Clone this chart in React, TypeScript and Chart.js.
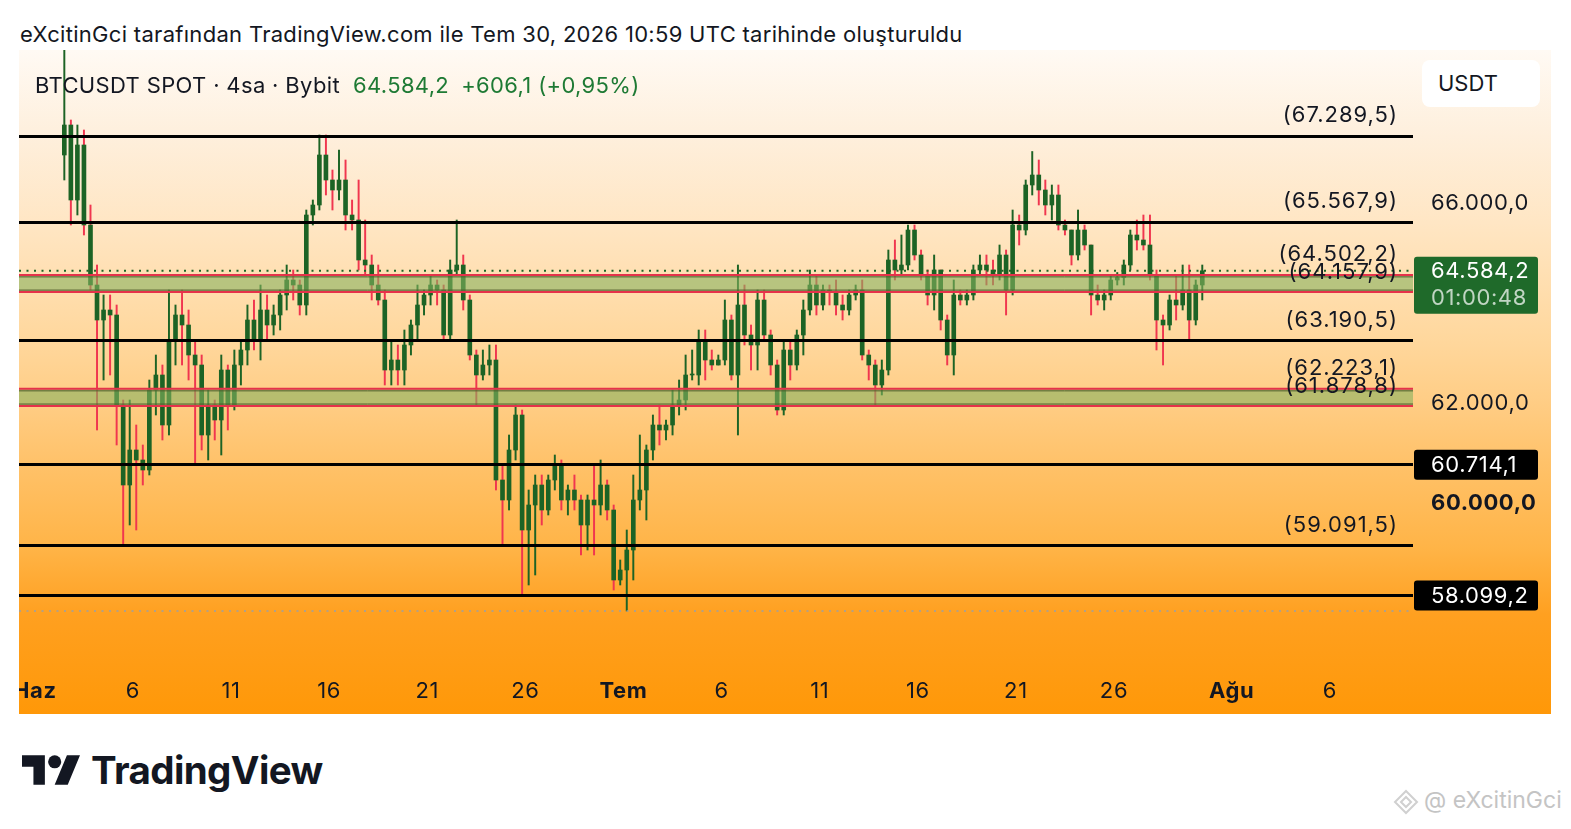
import React, { useEffect, useRef } from "react";
import { Chart, registerables } from "chart.js";

Chart.register(...registerables);

const FONT = "Inter, 'Noto Sans', sans-serif";
const TEXT = "#131722";

// 8-hour candles; x is measured in days after 1 June 00:00
const FIRST_OPEN = 66900;
const FIRST_DAY = 1.5;
const STEP_DAYS = 1 / 3;

const CLOSES = [
  67500, 66000, 67100, 65500, 64300, 63600, 63800, 63700, 61900, 60300,
  61000, 60800, 60600, 62200, 62500, 61500, 63200, 63700, 63500, 62900,
  62700, 61300, 61900, 61600, 62600, 61900, 62700, 63000, 63600, 63200,
  63800, 63500, 63700, 64100, 64400, 64300, 63900, 65700, 65900, 66900,
  66400, 66200, 66400, 65700, 65600, 64800, 64700, 64300, 64000, 62600,
  62800, 62600, 63100, 63500, 63900, 64100, 64300, 64200, 63300, 64600,
  64700, 64000, 62900, 62500, 62700, 62800, 60400, 60000, 61000, 61700,
  59400, 59900, 60300, 59800, 60400, 60700, 60000, 60200, 60000, 59500,
  60000, 59900, 60300, 59800, 58400, 58600, 59000, 60000, 60200, 61000,
  61500, 61400, 61500, 61900, 62000, 62500, 62500, 63200, 62800, 62700,
  62800, 63600, 62500, 63900, 63300, 63100, 64000, 63300, 62700, 61800,
  63000, 62700, 63300, 63800, 64300, 63900, 64200, 64150, 63900, 63800,
  64100, 64200, 62900, 62700, 62300, 62600, 64800, 64600, 64700, 65400,
  64900, 64500, 64100, 64600, 63600, 62900, 64100, 64000, 64100, 64600,
  64700, 64600, 64500, 64900, 64200, 65500, 65400, 66300, 66500, 66200,
  65900, 66100, 65500, 65400, 64900, 65400, 65100, 64100, 64000, 64100,
  64400, 64450, 64700, 65300, 65200, 65100, 64500, 63600, 63500, 64000,
  63900, 64200, 63600, 64300, 64584.2,
];

const HIGHS = [
  69050, 67600, 67500, 67400, 65900, 64700, 64100, 64100, 63900, 62000,
  62000, 61500, 61100, 62400, 62900, 62700, 64200, 63900, 64200, 63800,
  63200, 62900, 62200, 62000, 62900, 62700, 63000, 63200, 63900, 64000,
  64300, 64100, 63900, 64200, 64700, 64600, 64400, 65800, 66000, 67300,
  67300, 66600, 67000, 66800, 66000, 66400, 65600, 64900, 64700, 64200,
  63200, 63100, 63400, 63600, 64300, 64200, 64500, 64400, 64300, 64800,
  65600, 64900, 64100, 63000, 63000, 63100, 63100, 60700, 61300, 61900,
  61800, 60200, 60500, 60500, 60500, 60900, 60800, 60300, 60500, 60100,
  60100, 60700, 60800, 60400, 59900, 58800, 59400, 60500, 61300, 61100,
  61700, 61900, 61600, 62200, 62400, 62900, 63000, 63400, 63400, 63000,
  62900, 64000, 63700, 64700, 64300, 63500, 64200, 64200, 63400, 62800,
  63200, 63200, 63400, 64000, 64600, 64500, 64300, 64300, 64400, 64100,
  64200, 64300, 64400, 63000, 62800, 62800, 65000, 65200, 65300, 65500,
  65500, 65000, 64600, 64900, 64600, 63700, 64400, 64200, 64200, 64700,
  64900, 64900, 64800, 65100, 65000, 65800, 65700, 66400, 66970, 66800,
  66400, 66300, 66300, 65600, 65400, 65800, 65500, 65100, 64300, 64200,
  64500, 64550, 64800, 65400, 65600, 65700, 65700, 64600, 63700, 64100,
  64500, 64700, 64700, 64400, 64700,
];

const LOWS = [
  66400, 65500, 65700, 65300, 64200, 61400, 62400, 62500, 61100, 59100,
  59500, 59400, 60300, 60500, 61700, 61200, 61300, 62700, 62700, 62400,
  60700, 61000, 60800, 61200, 60900, 61400, 61800, 62300, 62700, 63000,
  62800, 63200, 63300, 63400, 63800, 64000, 63700, 63700, 65500, 65800,
  66100, 65800, 66000, 65400, 65400, 64600, 64500, 64000, 63900, 62300,
  62300, 62300, 62300, 62900, 63200, 63700, 63900, 63900, 63200, 63200,
  64500, 63800, 62800, 61900, 62400, 62500, 60200, 59100, 59800, 60800,
  58100, 58300, 58500, 59500, 59700, 60200, 59800, 59700, 59800, 58900,
  59000, 58900, 59700, 59600, 58200, 58300, 57780, 58400, 59800, 59600,
  60800, 61100, 61200, 61300, 61700, 61800, 62400, 62300, 62400, 62600,
  62700, 62700, 62400, 61300, 63100, 62600, 62600, 63200, 62500, 61700,
  61700, 62400, 62600, 62900, 63700, 63700, 63800, 63900, 63700, 63600,
  63700, 64000, 62800, 62400, 61900, 62100, 62500, 64400, 64500, 64600,
  64800, 64400, 63900, 63800, 63400, 62700, 62500, 63900, 63900, 64000,
  64500, 64300, 64300, 64400, 63700, 64100, 65100, 65300, 66100, 65900,
  65700, 65600, 65400, 65300, 64700, 64800, 65000, 63700, 63900, 63800,
  64000, 64300, 64300, 64600, 65000, 65000, 64400, 63000, 62700, 63400,
  63600, 63800, 63200, 63500, 64000,
];

const X_TICK_DAYS = [0, 5, 10, 15, 20, 25, 30, 35, 40, 45, 50, 55, 61, 66];
const X_TICK_LABELS = ["Haz", "6", "11", "16", "21", "26", "Tem", "6", "11", "16", "21", "26", "Ağu", "6"];
const X_BOLD_LABELS = ["Haz", "Tem", "Ağu"];
const Y_TICK_VALUES = [60000, 62000, 66000];
const Y_BOLD_VALUE = 60000;

const LINE_LEVELS = [67289.5, 65567.9, 63190.5, 60714.1, 59091.5, 58099.2];
const TEXT_LABEL_LEVELS = [67289.5, 65567.9, 64502.2, 64157.9, 63190.5, 62223.1, 61878.8, 59091.5];
const BOXED_LEVELS = [60714.1, 58099.2];
const ZONES = [
  [64157.9, 64502.2],
  [61878.8, 62223.1],
];
const LAST_PRICE = 64584.2;
const COUNTDOWN = "01:00:48";
const RANGE_LOW = 57780;

const X_MIN = -0.81;
const X_MAX = 70.24;
const Y_MIN = 56700;
const Y_MAX = 69000;

const BODY = "#1c6325";
const WICK_UP = "#1c6325";
const WICK_DOWN = "#f0364f";

function fmt(v: number): string {
  const [i, d] = v.toFixed(1).split(".");
  return i.replace(/\B(?=(\d{3})+(?!\d))/g, ".") + "," + d;
}

function roundRect(ctx: CanvasRenderingContext2D, x: number, y: number, w: number, h: number, r: number) {
  ctx.beginPath();
  ctx.moveTo(x + r, y);
  ctx.lineTo(x + w - r, y);
  ctx.quadraticCurveTo(x + w, y, x + w, y + r);
  ctx.lineTo(x + w, y + h - r);
  ctx.quadraticCurveTo(x + w, y + h, x + w - r, y + h);
  ctx.lineTo(x + r, y + h);
  ctx.quadraticCurveTo(x, y + h, x, y + h - r);
  ctx.lineTo(x, y + r);
  ctx.quadraticCurveTo(x, y, x + r, y);
  ctx.closePath();
}

const overlayPlugin = {
  id: "tvOverlay",
  beforeDraw(chart: any) {
    (chart.ctx as any).letterSpacing = "0.6px";
  },
  afterDatasetsDraw(chart: any) {
    const { ctx, chartArea } = chart;
    const ys = chart.scales.y;
    const left = chartArea.left;
    const right = chartArea.right;
    ctx.save();

    // zones
    ZONES.forEach(([lo, hi]) => {
      const yt = ys.getPixelForValue(hi);
      const yb = ys.getPixelForValue(lo);
      ctx.fillStyle = "rgba(135,178,95,0.6)";
      ctx.fillRect(left, yt, right - left, yb - yt);
      ctx.strokeStyle = "#4f5d2c";
      ctx.lineWidth = 1;
      ctx.beginPath();
      ctx.moveTo(left, yt + 2);
      ctx.lineTo(right, yt + 2);
      ctx.moveTo(left, yb - 2);
      ctx.lineTo(right, yb - 2);
      ctx.stroke();
      ctx.strokeStyle = "#e5324a";
      ctx.lineWidth = 2;
      ctx.beginPath();
      ctx.moveTo(left, yt);
      ctx.lineTo(right, yt);
      ctx.moveTo(left, yb);
      ctx.lineTo(right, yb);
      ctx.stroke();
    });

    // last price dotted line
    const yLast = ys.getPixelForValue(LAST_PRICE);
    ctx.setLineDash([2, 5.5]);
    ctx.strokeStyle = "#1c6325";
    ctx.lineWidth = 2;
    ctx.beginPath();
    ctx.moveTo(left, yLast);
    ctx.lineTo(right, yLast);
    ctx.stroke();

    // range low dotted line
    const yLow = ys.getPixelForValue(RANGE_LOW);
    ctx.strokeStyle = "#9aa0a6";
    ctx.lineWidth = 1.5;
    ctx.beginPath();
    ctx.moveTo(left, yLow);
    ctx.lineTo(right, yLow);
    ctx.stroke();
    ctx.setLineDash([]);

    // horizontal levels
    ctx.strokeStyle = "#000000";
    ctx.lineWidth = 3;
    LINE_LEVELS.forEach((v) => {
      const y = Math.round(ys.getPixelForValue(v)) + 0.5;
      ctx.beginPath();
      ctx.moveTo(left, y);
      ctx.lineTo(right, y);
      ctx.stroke();
    });

    // level text labels
    ctx.fillStyle = TEXT;
    ctx.font = `22px ${FONT}`;
    (ctx as any).letterSpacing = "1px";
    ctx.textAlign = "right";
    ctx.textBaseline = "middle";
    TEXT_LABEL_LEVELS.forEach((v) => {
      const y = ys.getPixelForValue(v);
      ctx.fillText(`(${fmt(v)})`, right - 15, y - 20);
    });
    ctx.restore();
  },
  afterDraw(chart: any) {
    const { ctx, chartArea } = chart;
    const ys = chart.scales.y;
    const bx = chartArea.right + 1;
    const bw = 124;
    const tx = chartArea.right + 18;
    ctx.save();
    ctx.font = `22px ${FONT}`;
    (ctx as any).letterSpacing = "0.6px";
    ctx.textAlign = "left";
    ctx.textBaseline = "middle";

    BOXED_LEVELS.forEach((v) => {
      const y = ys.getPixelForValue(v);
      ctx.fillStyle = "#000000";
      roundRect(ctx, bx, y - 14.5, bw, 30, 3);
      ctx.fill();
      ctx.fillStyle = "#ffffff";
      ctx.fillText(fmt(v), tx, y + 1);
    });

    const yLast = ys.getPixelForValue(LAST_PRICE);
    ctx.fillStyle = "#1f6a2a";
    roundRect(ctx, bx, yLast - 14, bw, 57, 3);
    ctx.fill();
    ctx.fillStyle = "#ffffff";
    ctx.fillText(fmt(LAST_PRICE), tx, yLast + 1);
    ctx.fillStyle = "rgba(255,255,255,0.72)";
    ctx.fillText(COUNTDOWN, tx, yLast + 28);
    ctx.restore();
  },
};

function CandleChart() {
  const ref = useRef<HTMLCanvasElement | null>(null);
  useEffect(() => {
    if (!ref.current) return;
    const opens = [FIRST_OPEN, ...CLOSES.slice(0, -1)];
    const xs = CLOSES.map((_, i) => FIRST_DAY + i * STEP_DAYS);
    const up = CLOSES.map((c, i) => c >= opens[i]);
    const chart = new Chart(ref.current, {
      type: "bar",
      data: {
        datasets: [
          {
            label: "wick",
            data: xs.map((x, i) => ({ x, y: [LOWS[i], HIGHS[i]] })) as any,
            backgroundColor: up.map((u) => (u ? WICK_UP : WICK_DOWN)),
            barThickness: 1.3,
            grouped: false,
            order: 2,
          } as any,
          {
            label: "body",
            data: xs.map((x, i) => ({ x, y: [opens[i], CLOSES[i]] })) as any,
            backgroundColor: BODY,
            barThickness: 4,
            minBarLength: 1,
            grouped: false,
            order: 1,
          } as any,
        ],
      },
      options: {
        animation: false,
        responsive: false,
        maintainAspectRatio: false,
        layout: { padding: 0 },
        plugins: { legend: { display: false }, tooltip: { enabled: false }, title: { display: false } },
        scales: {
          x: {
            type: "linear",
            min: X_MIN,
            max: X_MAX,
            offset: false,
            grid: { display: false, drawTicks: false },
            border: { display: false },
            ticks: {
              autoSkip: false,
              maxRotation: 0,
              minRotation: 0,
              padding: 13,
              color: TEXT,
              font: (c: any) => ({
                family: FONT,
                size: 22,
                weight: X_BOLD_LABELS.includes(X_TICK_LABELS[c.index]) ? "bold" : "normal",
              }),
              callback: (_v: any, i: number) => X_TICK_LABELS[i],
            },
            afterBuildTicks: (s: any) => {
              s.ticks = X_TICK_DAYS.map((v) => ({ value: v }));
            },
            afterFit: (s: any) => {
              s.height = 49;
              s.paddingLeft = 0;
              s.paddingRight = 0;
            },
          } as any,
          y: {
            type: "linear",
            position: "right",
            min: Y_MIN,
            max: Y_MAX,
            grid: { display: false, drawTicks: false },
            border: { display: false },
            ticks: {
              padding: 18,
              labelOffset: 3,
              color: TEXT,
              font: (c: any) => ({
                family: FONT,
                size: 22,
                weight: c.tick && c.tick.value === Y_BOLD_VALUE ? "bold" : "normal",
              }),
              callback: (v: any) => fmt(Number(v)),
            },
            afterBuildTicks: (s: any) => {
              s.ticks = Y_TICK_VALUES.map((v) => ({ value: v }));
            },
            afterFit: (s: any) => {
              s.width = 138;
              s.paddingTop = 0;
              s.paddingBottom = 0;
            },
          } as any,
        },
      },
      plugins: [overlayPlugin],
    });
    return () => chart.destroy();
  }, []);
  return <canvas ref={ref} width={1532} height={664} style={{ width: 1532, height: 664, display: "block" }} />;
}

export default function App() {
  return (
    <div style={{ position: "absolute", left: 0, top: 0, width: 1571, height: 829, background: "#ffffff", fontFamily: FONT, color: TEXT, overflow: "hidden" }}>
      <div style={{ position: "absolute", left: 20, top: 22, fontSize: 22, lineHeight: "25px", letterSpacing: 0.3, whiteSpace: "nowrap" }}>
        eXcitinGci tarafından TradingView.com ile Tem 30, 2026 10:59 UTC tarihinde oluşturuldu
      </div>
      <div
        style={{
          position: "absolute",
          left: 19,
          top: 50,
          width: 1532,
          height: 664,
          background:
            "linear-gradient(180deg, #fffaf4 0%, #feefdc 13%, #ffe6c4 26%, #ffd79c 44%, #ffcd85 53%, #ffc26a 62%, #ffb447 75%, #ffa020 85%, #ff9808 100%)",
        }}
      >
        <CandleChart />
      </div>
      <div style={{ position: "absolute", left: 35, top: 72, fontSize: 22, lineHeight: "26px", letterSpacing: 0.35, whiteSpace: "nowrap", pointerEvents: "none" }}>
        <span>BTCUSDT SPOT · 4sa · Bybit</span>
        <span style={{ color: "#1e7a34", marginLeft: 13 }}>{fmt(LAST_PRICE)}</span>
        <span style={{ color: "#1e7a34", marginLeft: 12 }}>+606,1 (+0,95%)</span>
      </div>
      <div
        style={{
          position: "absolute",
          left: 1422,
          top: 60,
          width: 118,
          height: 47,
          background: "#ffffff",
          borderRadius: 8,
          fontSize: 22,
          lineHeight: "47px",
          paddingLeft: 16,
          boxSizing: "border-box",
        }}
      >
        USDT
      </div>
      <svg style={{ position: "absolute", left: 22, top: 755 }} width={58} height={30} viewBox="0 4 35.5 18">
        <path d="M14 22H7V11H0V4h14v18zM28 22h-8l7.5-18h8L28 22z" fill="#131722" />
        <circle cx="20" cy="8" r="4" fill="#131722" />
      </svg>
      <div style={{ position: "absolute", left: 91, top: 750, fontSize: 38.5, fontWeight: 700, lineHeight: "40px", letterSpacing: -0.6, whiteSpace: "nowrap" }}>
        TradingView
      </div>
      <svg style={{ position: "absolute", left: 1393, top: 789 }} width={26} height={26} viewBox="0 0 26 26">
        <g fill="none" stroke="#d0d0d0" strokeWidth={2}>
          <path d="M13 2 L24 13 L13 24 L2 13 Z" />
          <path d="M13 8 L18 13 L13 18 L8 13 Z" />
        </g>
      </svg>
      <div style={{ position: "absolute", left: 1424, top: 787, fontSize: 23, lineHeight: "27px", color: "#c4c4c4", whiteSpace: "nowrap" }}>
        @ eXcitinGci
      </div>
    </div>
  );
}
